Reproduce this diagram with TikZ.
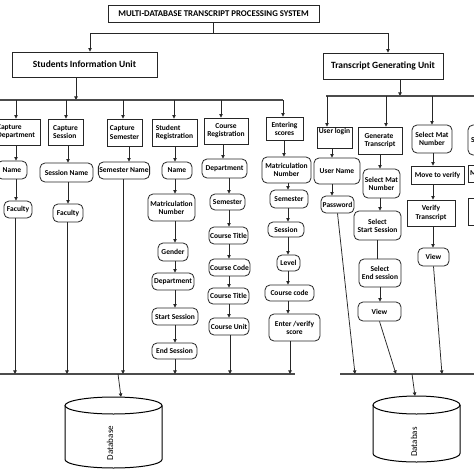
\documentclass[tikz,border=0pt]{standalone}
\usepackage{fontspec}
\setmainfont{Carlito}
\usetikzlibrary{arrows.meta}
\begin{document}
\begin{tikzpicture}[x=1pt,y=-1pt,
  every node/.style={font=\fontsize{7.5}{8.2}\selectfont\bfseries},
  sz/.style 2 args={minimum width=#1, minimum height=#2},
  box/.style={draw=black!85, line width=0.8pt, inner sep=1pt, align=center},
  rbox/.style={box, rounded corners=5pt},
  arr/.style={draw=black!85, line width=0.75pt, -{Triangle[length=3.6pt,width=3.4pt]}},
  ln/.style={draw=black!85, line width=0.75pt},
  bus/.style={draw=black!70, line width=1.1pt},
  cyl/.style={draw=black, line width=1pt},
]
\clip (0,0) rectangle (474,474);
\fill[white] (0,0) rectangle (474,474);

% ---------- top level ----------
\node[box, sz={211}{17}, font=\fontsize{8.8}{9.5}\selectfont\bfseries] (title) at (213.5,13.5) {MULTI-DATABASE TRANSCRIPT PROCESSING SYSTEM};
\node[box, sz={145}{25}, font=\fontsize{9.5}{10}\selectfont\bfseries] (siu) at (84.5,64.5) {Students Information Unit};
\node[box, sz={120}{26}, font=\fontsize{9.5}{10}\selectfont\bfseries] (tgu) at (383,66) {Transcript Generating Unit};

\coordinate (tj) at (213.5,33);
\coordinate (tl) at (90,33);
\coordinate (tr) at (388,33);
\draw[ln] (title.south) -- (tj);
\draw[ln] (tl) -- (tr);
\draw[arr] (tl) -- (tl |- siu.north);
\draw[arr] (tr) -- (tr |- tgu.north);

% ---------- Students Information Unit columns ----------
\coordinate (sj) at (76,100);
\draw[arr] (siu.south -| sj) -- (sj);
\draw[bus] (0,100) -- (283,100);
\coordinate (b1) at (16,100);
\coordinate (b2) at (66,100);
\coordinate (b3) at (123,100);
\coordinate (b4) at (174,100);
\coordinate (b5) at (221,100);
\coordinate (b6) at (283,100);

\node[box, sz={48}{26}, align=left] (cd) at (16,132) {Capture\\Department};
\node[box, sz={35}{26}, align=left] (cs) at (65.5,132) {Capture\\Session};
\node[box, sz={35}{27}, align=left] (csem) at (124.5,132.5) {Capture\\Semester};
\node[box, sz={45}{27}, align=left] (sr) at (174.5,132.5) {Student\\Registration};
\node[box, sz={44}{26}] (cr) at (226,131) {Course\\Registration};
\node[box, sz={37}{23}] (es) at (284.5,128.5) {Entering\\scores};

\foreach \b/\n in {b1/cd,b2/cs,b3/csem,b4/sr,b5/cr,b6/es}
  \draw[arr] (\b) -- (\b |- \n.north);

% column 1
\node[rbox, sz={30}{18}] (n1) at (12,170) {Name};
\node[rbox, sz={28}{17}] (f1) at (18,209.5) {Faculty};
% column 2
\node[rbox, sz={53}{19}] (sn) at (66.5,172.5) {Session Name};
\node[rbox, sz={30}{18}] (f2) at (68,213) {Faculty};
% column 3
\node[rbox, sz={50}{17}] (semn) at (124,170.5) {Semester Name};
% column 4
\node[rbox, sz={30}{17}] (n4) at (177,170.5) {Name};
\node[rbox, sz={47}{27}] (mn4) at (171.5,207.5) {Matriculation\\Number};
\node[rbox, sz={30}{18}] (g4) at (173,252) {Gender};
\node[rbox, sz={42}{17}] (d4) at (173,281.5) {Department};
\node[rbox, sz={46}{17}] (ss4) at (175,316.5) {Start Session};
\node[rbox, sz={45}{16}] (es4) at (174.5,351) {End Session};
% column 5
\node[rbox, sz={45}{19}] (dep5) at (224.5,168.5) {Department};
\node[rbox, sz={35}{16}] (sem5) at (227.5,202) {Semester};
\node[rbox, sz={39}{17}] (ct5a) at (228.5,235.5) {Course Title};
\node[rbox, sz={41}{17}] (cc5) at (229.5,267.5) {Course Code};
\node[rbox, sz={41}{16}] (ct5b) at (228.5,296) {Course Title};
\node[rbox, sz={40}{17}] (cu5) at (229,326.5) {Course Unit};
% column 6
\node[rbox, sz={49}{26}] (mn6) at (286.5,170) {Matriculation\\Number};
\node[rbox, sz={38}{18}] (sem6) at (289,199) {Semester};
\node[rbox, sz={36}{15}] (ses6) at (286,229.5) {Session};
\node[rbox, sz={23}{16}] (lv6) at (288.5,263) {Level};
\node[rbox, sz={49}{16}] (cc6) at (289.5,293) {Course code};
\node[rbox, sz={51}{27}] (ev6) at (294.5,327.5) {Enter /verify\\score};

\coordinate (c1) at (16,0);
\coordinate (c2) at (68,0);
\coordinate (c3) at (129,0);
\coordinate (c4) at (175,0);
\coordinate (c5a) at (223,0);
\coordinate (c5) at (229,0);
\coordinate (c6a) at (284,0);
\coordinate (c6) at (288,0);

\draw[arr] (cd.south -| c1) -- (n1.north -| c1);
\draw[arr] (n1.south -| c1) -- (f1.north -| c1);
\draw[arr] (cs.south -| c2) -- (sn.north -| c2);
\draw[arr] (sn.south -| c2) -- (f2.north -| c2);
\draw[arr] (csem.south -| c3) -- (semn.north -| c3);
\draw[arr] (sr.south -| c4) -- (n4.north -| c4);
\draw[arr] (n4.south -| c4) -- (mn4.north -| c4);
\draw[arr] (mn4.south -| c4) -- (g4.north -| c4);
\draw[arr] (g4.south -| c4) -- (d4.north -| c4);
\draw[arr] (d4.south -| c4) -- (ss4.north -| c4);
\draw[arr] (ss4.south -| c4) -- (es4.north -| c4);
\draw[arr] (cr.south -| c5a) -- (dep5.north -| c5a);
\draw[arr] (dep5.south -| c5) -- (sem5.north -| c5);
\draw[arr] (sem5.south -| c5) -- (ct5a.north -| c5);
\draw[arr] (ct5a.south -| c5) -- (cc5.north -| c5);
\draw[arr] (cc5.south -| c5) -- (ct5b.north -| c5);
\draw[arr] (ct5b.south -| c5) -- (cu5.north -| c5);
\draw[arr] (es.south -| c6a) -- (mn6.north -| c6a);
\draw[arr] (mn6.south -| c6) -- (sem6.north -| c6);
\draw[arr] (sem6.south -| c6) -- (ses6.north -| c6);
\draw[arr] (ses6.south -| c6) -- (lv6.north -| c6);
\draw[arr] (lv6.south -| c6) -- (cc6.north -| c6);
\draw[arr] (cc6.south -| c6) -- (ev6.north -| c6);

% bottom left bus
\draw[bus] (0,374) -- (295,374);
\coordinate (l1) at (15,374);
\coordinate (l2) at (67,374);
\coordinate (l3) at (123,374);
\coordinate (l4) at (175,374);
\coordinate (l5) at (230,374);
\coordinate (l6) at (290,374);
\draw[arr] (f1.south -| l1) -- (l1);
\draw[arr] (f2.south -| l2) -- (l2);
\draw[arr] (semn.south -| l3) -- (l3);
\draw[arr] (es4.south -| l4) -- (l4);
\draw[arr] (cu5.south -| l5) -- (l5);
\draw[arr] (ev6.south -| l6) -- (l6);

% Database (left)
\draw[cyl, fill=white] (65,405.5) -- (65,459.5) arc[start angle=180, end angle=0, x radius=48.5, y radius=8.5] -- (162,405.5);
\draw[cyl] (113.5,405.5) ellipse [x radius=48.5, y radius=8.5];
\node[rotate=90, font=\fontsize{9}{10}\selectfont] (db1) at (110,443) {Database};
\coordinate (lj) at (118,374);
\coordinate (db1top) at (121,397);
\draw[arr] (lj) -- (db1top);

% ---------- Transcript Generating Unit columns ----------
\coordinate (tg) at (400,96);
\draw[arr] (tgu.south -| tg) -- (tg);
\draw[bus] (326,96) -- (474,96);
\coordinate (r1) at (327,96);
\coordinate (r2) at (386,96);
\coordinate (r3) at (432,96);

\node[box, sz={35}{21}, text height=5pt, text depth=13pt] (ul) at (334.5,137.5) {User login};
\node[rbox, sz={46}{26}] (un) at (337,171) {User Name};
\node[rbox, sz={33}{17}] (pw) at (337.5,204.5) {Password};
\node[box, sz={44}{27}, align=left] (gt) at (380,140.5) {Generate\\Transcript};
\node[rbox, sz={37}{29}] (smn) at (381.5,183.5) {Select Mat\\Number};
\node[rbox, sz={47}{29}] (sss) at (377.5,225.5) {Select\\Start Session};
\node[rbox, sz={42}{28}] (ses) at (380,273) {Select\\End session};
\node[rbox, sz={43}{19}] (vw1) at (379.5,311.5) {View};
\node[rbox, sz={40}{28}] (smn3) at (432,139) {Select Mat\\Number};
\node[box, sz={53}{18}] (mv) at (437.5,175) {Move to verify};
\node[box, sz={48}{26}] (vt) at (431,213) {Verify\\Transcript};
\node[rbox, sz={31}{18}] (vw2) at (433.5,257) {View};
% clipped column at the right edge
\node[rbox, sz={44}{30}, text width=38pt, align=left] (x1) at (490,140) {Select};
\node[box, sz={44}{17}, text width=40pt, align=left] (x2) at (490,173.5) {Move};
\node[box, sz={44}{27}] (x3) at (490,211.5) {};

\draw[arr] (r1) -- (r1 |- ul.north);
\draw[arr] (r2) -- (r2 |- gt.north);
\draw[arr] (r3) -- (r3 |- smn3.north);

\coordinate (d1) at (332,0);
\coordinate (d2) at (380,0);
\coordinate (d2b) at (377,0);
\coordinate (d3) at (433,0);
\draw[arr] (ul.south -| d1) -- (un.north -| d1);
\draw[arr] (un.south -| d1) -- (pw.north -| d1);
\draw[arr] (gt.south -| d2) -- (smn.north -| d2);
\draw[arr] (smn.south -| d2) -- (sss.north -| d2);
\draw[ln] (sss.south -| d2b) -- (ses.north -| d2b);
\draw[arr] (ses.south -| d2) -- (vw1.north -| d2);
\draw[arr] (smn3.south -| d3) -- (mv.north -| d3);
\draw[arr] (mv.south -| d3) -- (vt.north -| d3);
\draw[arr] (vt.south -| d3) -- (vw2.north -| d3);

% bottom right bus
\draw[bus] (340,374) -- (474,374);
\coordinate (q1) at (355,374);
\coordinate (q2) at (396,374);
\coordinate (q3) at (442,374);
\draw[arr] (pw.south) -- (q1);
\draw[arr] (vw1.south) -- (q2);
\draw[arr] (vw2.south) -- (q3);

% Database (right)
\draw[cyl, fill=white] (373,405) -- (373,453.5) arc[start angle=180, end angle=0, x radius=43.5, y radius=8.5] -- (460,405);
\draw[cyl] (416.5,405) ellipse [x radius=43.5, y radius=9];
\node[rotate=90, font=\fontsize{9}{10}\selectfont] (db2) at (414,442) {Databas};
\coordinate (rj) at (412,374);
\coordinate (db2top) at (415,396);
\draw[arr] (rj) -- (db2top);
\end{tikzpicture}
\end{document}
